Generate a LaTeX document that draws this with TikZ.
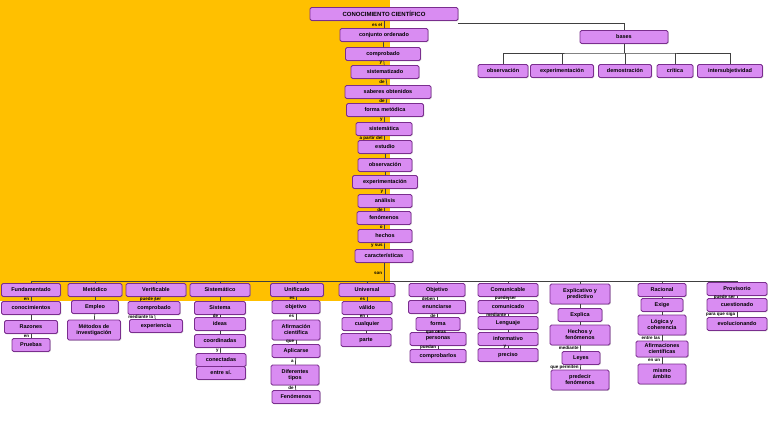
\documentclass[tikz,border=0pt]{standalone}
\usepackage{fontspec}
\setmainfont{Liberation Sans}
\usetikzlibrary{shadows}
\definecolor{bxfill}{HTML}{D98CF2}
\definecolor{bxdraw}{HTML}{7A2E8E}
\definecolor{orangebg}{HTML}{FFC000}
\tikzset{
 bx/.style={draw=bxdraw,fill=bxfill,rounded corners=1.5pt,line width=0.9pt,minimum height=13pt,inner sep=1pt,font=\fontsize{5.5}{6}\selectfont\bfseries,align=center,drop shadow={shadow xshift=0.8pt,shadow yshift=-0.8pt,opacity=0.35}},
 lbl/.style={font=\fontsize{4.5}{5}\selectfont\bfseries,inner sep=0.5pt,anchor=east,xshift=-1pt},
 ln/.style={draw=black!75,line width=0.7pt}
}
\newcommand{\bxn}[5]{\node[bx,minimum width=#4pt] (#1) at (#2,#3) {#5};}
\begin{document}
\begin{tikzpicture}[x=1pt,y=-1pt]
\useasboundingbox (0,0) rectangle (768,447);
\fill[orangebg] (0,0) rectangle (390,301);
% main column
\bxn{t}{384}{14}{148}{\fontsize{6}{7}\selectfont CONOCIMIENTO CIENTÍFICO}
\bxn{c1}{384}{35}{88}{conjunto ordenado}
\bxn{c2}{383}{54}{75}{comprobado}
\bxn{c3}{385}{72}{68}{sistematizado}
\bxn{c4}{388}{92}{86}{saberes obtenidos}
\bxn{c5}{385}{110}{77}{forma metódica}
\bxn{c6}{384}{129}{56}{sistemática}
\bxn{c7}{385}{147}{54}{estudio}
\bxn{c8}{385}{165}{54}{observación}
\bxn{c9}{385}{182}{65}{experimentación}
\bxn{c10}{385}{201}{54}{análisis}
\bxn{c11}{384}{218}{54}{fenómenos}
\bxn{c12}{385}{236}{54}{hechos}
\bxn{c13}{384}{256}{58}{características}
\draw[ln] (t) -- node[lbl]{es el} (c1);
\draw[ln] (c1) -- (c2);
\draw[ln] (c2) -- node[lbl]{y} (c3);
\draw[ln] (c3) -- node[lbl]{de} (c4);
\draw[ln] (c4) -- node[lbl]{de} (c5);
\draw[ln] (c5) -- node[lbl]{y} (c6);
\draw[ln] (c6) -- node[lbl]{a partir del} (c7);
\draw[ln] (c7) -- (c8);
\draw[ln] (c8) -- (c9);
\draw[ln] (c9) -- node[lbl]{y} (c10);
\draw[ln] (c10) -- node[lbl]{de} (c11);
\draw[ln] (c11) -- node[lbl]{o} (c12);
\draw[ln] (c12) -- node[lbl]{y sus} (c13);
% bases
\bxn{b}{624}{37}{88}{bases}
\bxn{b1}{503}{71}{50}{observación}
\bxn{b2}{562}{71}{63}{experimentación}
\bxn{b3}{625}{71}{53}{demostración}
\bxn{b4}{675}{71}{36}{crítica}
\bxn{b5}{730}{71}{65}{intersubjetividad}
\draw[ln] (t.south east) ++(0,2) coordinate (tr) -| (b.north);
\draw[ln] (b.south) -- (b.south |- 0,53);
\draw[ln] (b1.north) |- (624,53) -| (b5.north);
\foreach \n in {b2,b3,b4} \draw[ln] (\n.north) -- (\n.north |- 0,53);
% top-level
\bxn{f}{31}{290}{59}{Fundamentado}
\bxn{m}{95}{290}{54}{Metódico}
\bxn{v}{156}{290}{60}{Verificable}
\bxn{s}{220}{290}{60}{Sistemático}
\bxn{u}{297}{290}{53}{Unificado}
\bxn{un}{367}{290}{56}{Universal}
\bxn{o}{437}{290}{56}{Objetivo}
\bxn{co}{508}{290}{60}{Comunicable}
\node[bx,minimum width=60pt,minimum height=20pt] (e) at (580,294) {Explicativo y\\predictivo};
\bxn{r}{662}{290}{48}{Racional}
\bxn{p}{737}{289}{60}{Provisorio}
\coordinate (busL) at (31,281);
\coordinate (busR) at (737,281);
\draw[ln] (busL) -- (busR);
\draw[ln] (c13) -- node[lbl,pos=0.6]{son} (c13 |- busL);
\foreach \n in {f,m,v,s,u,un,o,co,e,r,p} \draw[ln] (\n.north) -- (\n.north |- busL);
% Fundamentado
\bxn{f1}{31}{308}{59}{conocimientos}
\bxn{f2}{31}{327}{53}{Razones}
\bxn{f3}{31}{345}{38}{Pruebas}
\draw[ln] (f) -- node[lbl]{en} (f1);
\draw[ln] (f1) -- (f2);
\draw[ln] (f2) -- node[lbl]{en} (f3);
% Metódico
\bxn{m1}{95}{307}{47}{Empleo}
\node[bx,minimum width=53pt,minimum height=20pt] (m2) at (94,330) {Métodos de\\investigación};
\draw[ln] (m) -- (m1); \draw[ln] (m1) -- (m2);
% Verificable
\bxn{v1}{154}{308}{52}{comprobado}
\bxn{v2}{156}{326}{53}{experiencia}
\draw[ln] (v) -- node[lbl,xshift=8pt]{puede ser} (v1);
\draw[ln] (v1) -- node[lbl]{mediante la} (v2);
% Sistemático
\bxn{s1}{220}{308}{51}{Sistema}
\bxn{s2}{220}{324}{51}{ideas}
\bxn{s3}{220}{341}{51}{coordinadas}
\bxn{s4}{221}{360}{50}{conectadas}
\bxn{s5}{221}{373}{49}{entre sí.}
\draw[ln] (s) -- (s1);
\draw[ln] (s1) -- node[lbl]{de} (s2);
\draw[ln] (s2) -- (s3);
\draw[ln] (s3) -- node[lbl]{y} (s4);
\draw[ln] (s4) -- (s5);
% Unificado
\bxn{u1}{296}{307}{48}{objetivo}
\node[bx,minimum width=48pt,minimum height=20pt] (u2) at (296,330) {Afirmación\\científica};
\bxn{u3}{296}{351}{48}{Aplicarse}
\node[bx,minimum width=48pt,minimum height=20pt] (u4) at (295,375) {Diferentes\\tipos};
\bxn{u5}{296}{397}{48}{Fenómenos};
\draw[ln] (u) -- node[lbl]{es} (u1);
\draw[ln] (u1) -- node[lbl]{es} (u2);
\draw[ln] (u2) -- node[lbl]{que} (u3);
\draw[ln] (u3) -- node[lbl]{a} (u4);
\draw[ln] (u4) -- node[lbl]{de} (u5);
% Universal
\bxn{un1}{367}{308}{50}{válido}
\bxn{un2}{367}{324}{50}{cualquier}
\bxn{un3}{366}{340}{50}{parte}
\draw[ln] (un) -- node[lbl]{es} (un1);
\draw[ln] (un1) -- node[lbl]{en} (un2);
\draw[ln] (un2) -- (un3);
% Objetivo
\bxn{o1}{437}{307}{57}{enunciarse}
\bxn{o2}{438}{324}{44}{forma}
\bxn{o3}{438}{339}{56}{personas}
\bxn{o4}{438}{356}{56}{comprobarlos}
\draw[ln] (o) -- node[lbl]{deben} (o1);
\draw[ln] (o1) -- node[lbl]{de} (o2);
\draw[ln] (o2) -- node[lbl,xshift=10pt,yshift=-1pt]{que otras} (o3);
\draw[ln] (o3) -- node[lbl]{puedan} (o4);
% Comunicable
\bxn{co1}{508}{307}{60}{comunicado}
\bxn{co2}{508}{323}{60}{Lenguaje}
\bxn{co3}{508}{339}{60}{informativo}
\bxn{co4}{508}{355}{60}{preciso}
\draw[ln] (co) -- node[lbl,xshift=10pt]{puede ser} (co1);
\draw[ln] (co1) -- node[lbl]{mediante} (co2);
\draw[ln] (co2) -- (co3);
\draw[ln] (co3) -- node[lbl]{y} (co4);
% Explicativo
\bxn{e1}{580}{315}{44}{Explica}
\node[bx,minimum width=60pt,minimum height=20pt] (e2) at (580,335) {Hechos y\\fenómenos};
\bxn{e3}{581}{358}{38}{Leyes}
\node[bx,minimum width=58pt,minimum height=20pt] (e4) at (580,380) {predecir\\fenómenos};
\draw[ln] (e) -- (e1);
\draw[ln] (e1) -- (e2);
\draw[ln] (e2) -- node[lbl]{mediante} (e3);
\draw[ln] (e3) -- node[lbl]{que permiten} (e4);
% Racional
\bxn{r1}{662}{305}{42}{Exige}
\node[bx,minimum width=48pt,minimum height=20pt] (r2) at (662,325) {Lógica y\\coherencia};
\node[bx,minimum width=52pt,minimum height=16pt] (r3) at (662,349) {Afirmaciones\\científicas};
\node[bx,minimum width=48pt,minimum height=20pt] (r4) at (662,374) {mismo\\ámbito};
\draw[ln] (r) -- (r1);
\draw[ln] (r1) -- (r2);
\draw[ln] (r2) -- node[lbl]{entre las} (r3);
\draw[ln] (r3) -- node[lbl]{en un} (r4);
% Provisorio
\bxn{p1}{737}{305}{60}{cuestionado}
\bxn{p2}{737}{324}{60}{evolucionando}
\draw[ln] (p) -- node[lbl]{puede ser} (p1);
\draw[ln] (p1) -- node[lbl]{para que siga} (p2);
\end{tikzpicture}
\end{document}
